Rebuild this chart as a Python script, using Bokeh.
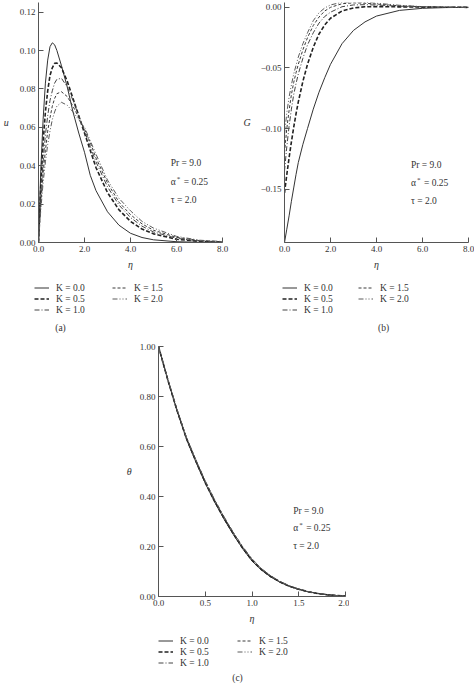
from bokeh.plotting import figure
from bokeh.models import (Range1d, FixedTicker, CustomJSTickFormatter, Label,
                          Legend, LegendItem)
from bokeh.layouts import row, column
from bokeh.embed import file_html
from bokeh.resources import INLINE

# ---------------- data ----------------
K_labels = ["K = 0.0", "K = 0.5", "K = 1.0", "K = 1.5", "K = 2.0"]

eta_u = [0, 0.1, 0.2, 0.3, 0.4, 0.5, 0.6, 0.7, 0.8, 1.0, 1.25, 1.5, 1.75, 2.0,
         2.25, 2.5, 3.0, 3.5, 4.0, 4.5, 5.0, 6.0, 7.0, 8.0]
u_K00 = [0, 0.038, 0.064, 0.083, 0.095, 0.102, 0.104, 0.103, 0.100, 0.092, 0.081,
         0.068, 0.057, 0.047, 0.035, 0.027, 0.016, 0.009, 0.0048, 0.0026, 0.0014, 0.0004, 0.0001, 0.0]
u_K05 = [0, 0.030, 0.052, 0.068, 0.079, 0.087, 0.091, 0.0933, 0.0935, 0.091, 0.084,
         0.075, 0.066, 0.057, 0.048, 0.039, 0.026, 0.017, 0.011, 0.007, 0.0045, 0.0017, 0.0006, 0.0002]
u_K10 = [0, 0.024, 0.042, 0.056, 0.066, 0.074, 0.079, 0.083, 0.085, 0.0855, 0.081,
         0.074, 0.066, 0.058, 0.050, 0.042, 0.029, 0.0195, 0.013, 0.0085, 0.0055, 0.0022, 0.0008, 0.0003]
u_K15 = [0, 0.020, 0.036, 0.048, 0.058, 0.065, 0.071, 0.075, 0.0775, 0.0785, 0.076,
         0.071, 0.065, 0.059, 0.052, 0.044, 0.031, 0.021, 0.0145, 0.0097, 0.0064, 0.0027, 0.001, 0.0004]
u_K20 = [0, 0.017, 0.031, 0.042, 0.051, 0.058, 0.064, 0.068, 0.071, 0.073, 0.0715,
         0.068, 0.064, 0.060, 0.053, 0.046, 0.0325, 0.023, 0.0165, 0.011, 0.0075, 0.0032, 0.0012, 0.0005]

eta_g = [0, 0.1, 0.2, 0.3, 0.4, 0.5, 0.6, 0.8, 1.0, 1.25, 1.5, 1.75, 2.0, 2.5,
         3.0, 3.5, 4.0, 5.0, 6.0, 7.0, 8.0]
G_K00 = [-0.194, -0.183, -0.172, -0.160, -0.149, -0.138, -0.128, -0.113, -0.100, -0.084,
         -0.070, -0.058, -0.047, -0.030, -0.019, -0.012, -0.0072, -0.0025, -0.0008, -0.0002, 0.0]
G_K05 = [-0.153, -0.138, -0.124, -0.111, -0.099, -0.088, -0.078, -0.061, -0.047, -0.033,
         -0.022, -0.0145, -0.009, -0.003, -0.0005, 0.0005, 0.0006, 0.0004, 0.0002, 0.0001, 0.0]
G_K10 = [-0.135, -0.115, -0.098, -0.084, -0.072, -0.063, -0.055, -0.042, -0.031, -0.021,
         -0.013, -0.0075, -0.004, 0.0005, 0.002, 0.0022, 0.0019, 0.001, 0.0004, 0.0001, 0.0]
G_K15 = [-0.120, -0.100, -0.085, -0.072, -0.062, -0.054, -0.047, -0.035, -0.025, -0.015,
         -0.008, -0.003, 0.0, 0.003, 0.0037, 0.0034, 0.0027, 0.0013, 0.0005, 0.0001, 0.0]
G_K20 = [-0.105, -0.087, -0.074, -0.064, -0.055, -0.048, -0.041, -0.030, -0.021, -0.011,
         -0.0045, -0.0005, 0.002, 0.0042, 0.0047, 0.0042, 0.0034, 0.0017, 0.0006, 0.0002, 0.0]

eta_t = [0, 0.1, 0.2, 0.3, 0.4, 0.5, 0.6, 0.7, 0.8, 0.9, 1.0, 1.1, 1.2, 1.3, 1.4,
         1.5, 1.6, 1.7, 1.8, 1.9, 2.0]
t_K00 = [1.0, 0.865, 0.740, 0.628, 0.538, 0.453, 0.378, 0.310, 0.248, 0.191, 0.142,
         0.106, 0.078, 0.057, 0.040, 0.028, 0.019, 0.012, 0.007, 0.004, 0.002]
t_K05 = [1.0, 0.866, 0.742, 0.631, 0.541, 0.456, 0.381, 0.313, 0.251, 0.194, 0.145,
         0.108, 0.080, 0.058, 0.041, 0.029, 0.019, 0.012, 0.007, 0.004, 0.002]
t_K10 = [1.0, 0.867, 0.744, 0.633, 0.543, 0.459, 0.384, 0.316, 0.253, 0.196, 0.147,
         0.110, 0.081, 0.059, 0.042, 0.029, 0.020, 0.012, 0.007, 0.004, 0.002]
t_K15 = [1.0, 0.868, 0.745, 0.635, 0.545, 0.461, 0.386, 0.318, 0.255, 0.198, 0.149,
         0.111, 0.082, 0.060, 0.042, 0.030, 0.020, 0.013, 0.008, 0.004, 0.002]
t_K20 = [1.0, 0.869, 0.746, 0.636, 0.547, 0.463, 0.388, 0.320, 0.257, 0.200, 0.151,
         0.112, 0.083, 0.061, 0.043, 0.030, 0.020, 0.013, 0.008, 0.004, 0.002]

u_ticks_x = [0, 2, 4, 6, 8]
u_ticks_y = [0.0, 0.02, 0.04, 0.06, 0.08, 0.10, 0.12]
g_ticks_y = [-0.15, -0.10, -0.05, 0.0]
t_ticks_x = [0.0, 0.5, 1.0, 1.5, 2.0]
t_ticks_y = [0.0, 0.2, 0.4, 0.6, 0.8, 1.0]

params = ["Pr = 9.0", "= 0.25", "\u03c4 = 2.0"]
captions = ["(a)", "(b)", "(c)"]

# ---------------- styles ----------------
FONT = "Liberation Serif"
TXT = "#333333"
AX = "#555555"
STYLES = [
    dict(line_color="#333333", line_width=1.0, line_dash="solid"),
    dict(line_color="#222222", line_width=1.6, line_dash="4 2"),
    dict(line_color="#444444", line_width=1.0, line_dash="5 2 1 2"),
    dict(line_color="#3a3a3a", line_width=1.0, line_dash="3 2"),
    dict(line_color="#5a5a5a", line_width=1.0, line_dash="5 2 1 2 1 2"),
]


def fmt(n):
    return CustomJSTickFormatter(code="""
        if (Math.abs(tick) < 1e-12) { tick = 0; }
        return tick.toFixed(%d).replace('-', '\u2212');
    """ % n)


def make_fig(w, h, bl, br, bt, bb, xr, yr, xt, yt, xd, yd, ylab, ylab_standoff):
    p = figure(width=w, height=h, x_range=Range1d(*xr), y_range=Range1d(*yr),
               output_backend="svg", toolbar_location=None,
               min_border_left=bl, min_border_right=br,
               min_border_top=bt, min_border_bottom=bb)
    p.outline_line_color = None
    p.xgrid.visible = False
    p.ygrid.visible = False
    p.xaxis.ticker = FixedTicker(ticks=xt)
    p.yaxis.ticker = FixedTicker(ticks=yt)
    p.xaxis.formatter = fmt(xd)
    p.yaxis.formatter = fmt(yd)
    for ax in (p.xaxis[0], p.yaxis[0]):
        ax.axis_line_color = AX
        ax.axis_line_width = 1
        ax.major_tick_line_color = AX
        ax.major_tick_in = 5
        ax.major_tick_out = 0
        ax.minor_tick_line_color = None
        ax.major_label_text_font = FONT
        ax.major_label_text_font_size = "9px"
        ax.major_label_text_color = TXT
        ax.major_label_standoff = 3
        ax.axis_label_text_font = FONT
        ax.axis_label_text_font_style = "italic"
        ax.axis_label_text_font_size = "10px"
        ax.axis_label_text_color = TXT
    p.xaxis.axis_label = "\u03b7"
    p.xaxis.axis_label_standoff = 4
    p.yaxis.axis_label = ylab
    p.yaxis.axis_label_orientation = "horizontal"
    p.yaxis.axis_label_standoff = ylab_standoff
    return p


def add_lines(p, xs, series):
    for ys, st in zip(series, STYLES):
        p.line(xs, ys, **st)


def legend_fig(w, h, xs, series, l1x, l1y, l2x, l2y, cap_x, cap_y, caption):
    f = figure(width=w, height=h, x_range=Range1d(0, w), y_range=Range1d(0, h),
               output_backend="svg", toolbar_location=None,
               x_axis_type=None, y_axis_type=None, min_border=0)
    f.outline_line_color = None
    f.xgrid.visible = False
    f.ygrid.visible = False
    # the series are mapped onto an off-canvas range: they only feed the legend
    f.extra_x_ranges = {"off": Range1d(1000, 1001)}
    rends = [f.line(xs, ys, x_range_name="off", **st) for ys, st in zip(series, STYLES)]
    common = dict(orientation="vertical", background_fill_alpha=0,
                  border_line_color=None, padding=0, margin=0, spacing=0,
                  glyph_width=15, glyph_height=11, label_height=11,
                  label_standoff=7, label_text_font=FONT,
                  label_text_font_size="9.5px", label_text_color=TXT)
    leg1 = Legend(items=[LegendItem(label=K_labels[i], renderers=[rends[i]]) for i in range(3)],
                  location=(l1x, l1y), **common)
    leg2 = Legend(items=[LegendItem(label=K_labels[i], renderers=[rends[i]]) for i in range(3, 5)],
                  location=(l2x, l2y), **common)
    f.add_layout(leg1)
    f.add_layout(leg2)
    f.add_layout(Label(x=cap_x, y=cap_y, text=caption, text_font=FONT,
                       text_font_size="9.5px", text_color=TXT,
                       text_align="center", text_baseline="middle"))
    return f


def add_params(p, x, ys):
    kw = dict(text_font=FONT, text_font_size="9.5px", text_color=TXT,
              text_baseline="middle", text_align="left")
    p.add_layout(Label(x=x, y=ys[0], text=params[0], **kw))
    p.add_layout(Label(x=x, y=ys[1], text="\u03b1", **kw))
    p.add_layout(Label(x=x, y=ys[1], text="*", x_offset=6, y_offset=3,
                       text_font=FONT, text_font_size="7px", text_color=TXT,
                       text_baseline="middle", text_align="left"))
    p.add_layout(Label(x=x, y=ys[1], text=params[1], x_offset=13, **kw))
    p.add_layout(Label(x=x, y=ys[2], text=params[2], **kw))


u_series = [u_K00, u_K05, u_K10, u_K15, u_K20]
g_series = [G_K00, G_K05, G_K10, G_K15, G_K20]
t_series = [t_K00, t_K05, t_K10, t_K15, t_K20]

# ---------------- panel (a) ----------------
pa = make_fig(240, 275, 35, 18, 2, 33, (0, 8), (0, 0.125), u_ticks_x, u_ticks_y, 1, 2, "u", 8)
add_lines(pa, eta_u, u_series)
add_params(pa, 5.75, [0.0412, 0.0317, 0.0223])
la = legend_fig(240, 60, eta_u, u_series, 34, 20, 112, 31, 60, 8, captions[0])

# ---------------- panel (b) ----------------
pb = make_fig(234, 275, 41, 6, 2, 33, (0, 8), (-0.194, 0.004), u_ticks_x, g_ticks_y, 1, 2, "G", 7)
add_lines(pb, eta_g, g_series)
add_params(pb, 5.5, [-0.1304, -0.1448, -0.1595])
lb = legend_fig(234, 60, eta_g, g_series, 42, 20, 118, 31, 143, 8, captions[1])

# ---------------- panel (c) ----------------
pc = make_fig(349, 291, 158, 4, 11, 30, (0, 2), (0, 1), t_ticks_x, t_ticks_y, 1, 2, "\u03b8", 5)
add_lines(pc, eta_t, t_series)
add_params(pc, 1.44, [0.344, 0.275, 0.204])
lc = legend_fig(349, 60, eta_t, t_series, 158, 18, 237, 29, 237, 9, captions[2])

layout = column(row(pa, pb), row(la, lb), row(pc), row(lc))
open("out.html", "w").write(file_html(layout, INLINE))
